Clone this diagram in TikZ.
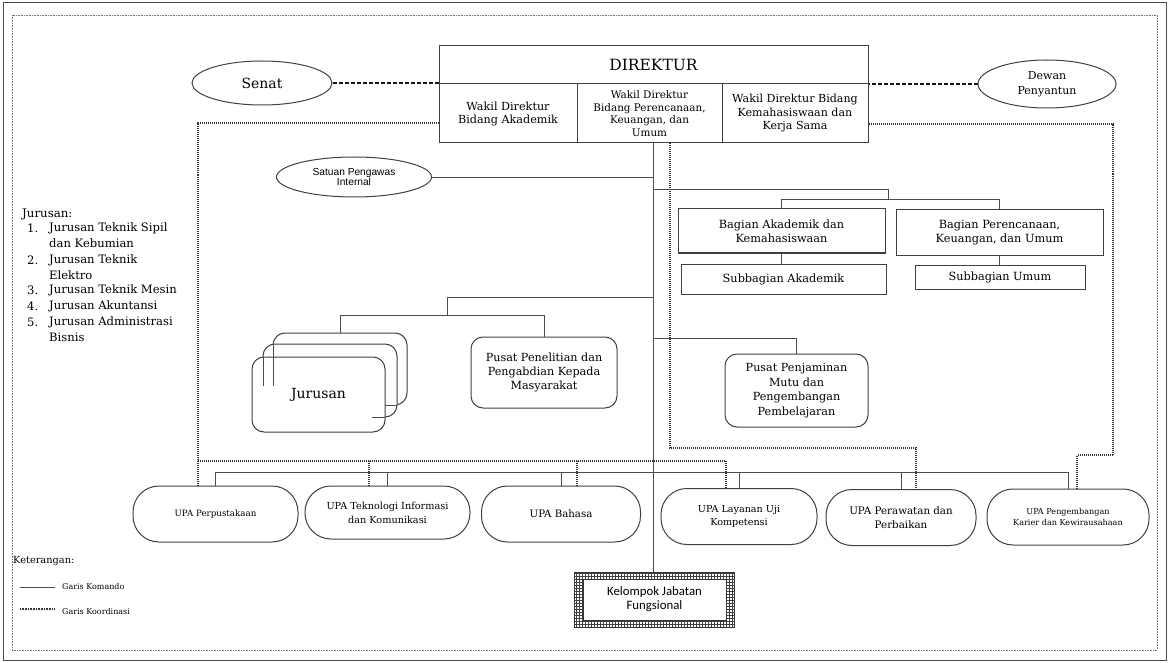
\documentclass[tikz,border=0pt]{standalone}
\usepackage{fontspec}
\setmainfont{DejaVu Serif}
\newfontfamily\sansA{Liberation Sans}
\newfontfamily\sansB{Carlito}
\usetikzlibrary{patterns,shapes.geometric,calc}
\newcommand\fsz[2]{\fontsize{#1}{#2}\selectfont}
\begin{document}
\begin{tikzpicture}[x=1pt,y=-1pt,
 box/.style={draw=black!75, line width=1pt, inner sep=1pt, align=center, font=\fsz{11.3}{14}, text=black},
 rbox/.style={box, rounded corners=12pt},
 upa/.style={box, rounded corners=26pt, minimum height=56pt, font=\fsz{9.6}{13}},
 ell/.style={draw=black!75, line width=1pt, ellipse, inner sep=0pt, align=center, text=black},
 cmd/.style={draw=black!70, line width=0.8pt},
 coord/.style={draw=black!80, line width=1.5pt, dash pattern=on 1pt off 1pt},
 dsh/.style={draw=black!90, line width=1.8pt, dash pattern=on 4pt off 2pt},
 lgd/.style={anchor=west, inner sep=0pt, text=black},
]
\useasboundingbox (0,0) rectangle (1170,663);
% frames
\draw[black!70, line width=1pt] (3,3) rectangle (1166,660);
\draw[black!55, line width=0.8pt, dash pattern=on 0.8pt off 0.8pt] (12,15) rectangle (1157,650);

% top
\node[box, minimum width=429pt, minimum height=38pt, font=\fsz{15.5}{18}] (dir) at (653.5,65) {DIREKTUR};
\node[box, minimum width=138pt, minimum height=59pt, font=\fsz{11.2}{13}] (wa) at (508,113.5) {Wakil Direktur\\Bidang Akademik};
\node[box, minimum width=145pt, minimum height=59pt, font=\fsz{10.4}{12.7}] (wp) at (649.5,113.5) {Wakil Direktur\\Bidang Perencanaan,\\Keuangan, dan\\Umum};
\node[box, minimum width=146pt, minimum height=59pt, font=\fsz{11.1}{13.5}] (wk) at (795,113.5) {Wakil Direktur Bidang\\Kemahasiswaan dan\\Kerja Sama};
\node[ell, minimum width=140pt, minimum height=44pt, font=\fsz{14}{16}] (senat) at (262,83) {Senat};
\node[ell, minimum width=138pt, minimum height=48pt, font=\fsz{11}{15}] (dewan) at (1047,84) {Dewan\\Penyantun};
\node[ell, minimum width=155pt, minimum height=40pt, font=\sansA\fsz{10.2}{9}] (sat) at (354,177) {Satuan Pengawas\\Internal};

\draw[dsh] (senat.east) -- (senat.east -| dir.west);
\draw[dsh] (dewan.west) -- (dewan.west -| dir.east);

% right branch
\node[box, minimum width=207pt, minimum height=44pt] (bagA) at (781.5,231) {Bagian Akademik dan\\Kemahasiswaan};
\node[box, minimum width=205pt, minimum height=30pt] (subA) at (783.5,279) {Subbagian Akademik};
\node[box, minimum width=207pt, minimum height=45pt] (bagP) at (999.5,232.5) {Bagian Perencanaan,\\Keuangan, dan Umum};
\node[box, minimum width=170pt, minimum height=24pt] (subU) at (1000,277) {Subbagian Umum};
\node[rbox, minimum width=143pt, minimum height=73pt, font=\fsz{11.2}{14.6}] (ppm) at (796.5,390.5) {Pusat Penjaminan\\Mutu dan\\Pengembangan\\Pembelajaran};

% left branch
\node[rbox, minimum width=146pt, minimum height=71pt, font=\fsz{11.2}{13.6}] (ppp) at (544,372.5) {Pusat Penelitian dan\\Pengabdian Kepada\\Masyarakat};
\node[rbox, fill=white, minimum width=134pt, minimum height=72pt] (jb) at (340,369) {};
\node[rbox, fill=white, minimum width=134pt, minimum height=73pt] (jm) at (330,380.5) {};
\node[rbox, fill=white, minimum width=133pt, minimum height=75pt, font=\fsz{14}{16}] (jur) at (318.5,394.5) {Jurusan};
\draw[cmd] (273,344) -- (273,386);
\draw[cmd] (263,357) -- (263,386);
\draw[cmd] (385,405) -- (397,405);
\draw[cmd] (372,417) -- (385,417);

% UPA
\node[upa, minimum width=165pt, font=\fsz{8.7}{11}] (u1) at (215.5,514) {UPA Perpustakaan};
\node[upa, minimum width=165pt, minimum height=53pt, font=\fsz{9.7}{14}] (u2) at (387.5,512.5) {UPA Teknologi Informasi\\dan Komunikasi};
\node[upa, minimum width=159pt, font=\fsz{10.2}{12}] (u3) at (561,514) {UPA Bahasa};
\node[upa, minimum width=156pt, font=\fsz{9.6}{13}] (u4) at (739,516.5) {UPA Layanan Uji\\Kompetensi};
\node[upa, minimum width=150pt, font=\fsz{10.3}{13.5}] (u5) at (901,517.5) {UPA Perawatan dan\\Perbaikan};
\node[upa, minimum width=162pt, font=\fsz{8.1}{11.5}] (u6) at (1068,517) {UPA Pengembangan\\Karier dan Kewirausahaan};

% Kelompok
\node[draw=black!80, line width=0.8pt, pattern=grid, pattern color=black!75, minimum width=160pt, minimum height=55pt] (kjfo) at (654,599.5) {};
\node[draw=black!80, line width=0.8pt, fill=white, minimum width=143pt, minimum height=41pt, font=\sansB\fsz{12.8}{14}, align=center, text=black] (kjf) at (654.5,599.5) {Kelompok Jabatan\\Fungsional};

% command lines
\coordinate (t0) at (653,143);
\draw[cmd] (t0) -- (t0 |- kjfo.north);
\draw[cmd] (sat.east) -- (sat.east -| t0);
\draw[cmd] (653,189) -| (888,199);
\draw[cmd] (bagA.north) -- (bagA.north |- 0,199) -| (bagP.north);
\draw[cmd] (bagA.south) -- (bagA.south |- subA.north);
\draw[cmd] (bagP.south) -- (bagP.south |- subU.north);
\draw[cmd] (653,338) -| (ppm.north);
\draw[cmd] (653,297) -| (447,315);
\draw[cmd] (jb.north) -- (jb.north |- 0,315) -| (ppp.north);
\draw[cmd] (u1.north) -- (u1.north |- 0,472) -| (u6.north);
\foreach \u in {u2,u3,u4,u5} \draw[cmd] (\u.north) -- (\u.north |- 0,472);

% coordination lines
\draw[coord] (wa.west |- 0,123) -| (198,485);
\draw[coord] (198,461) -| (726,489);
\draw[coord] (369,461) -- (369,486);
\draw[coord] (577,461) -- (577,486);
\draw[coord] (670,143) |- (916,448) -- (916,490);
\draw[coord] (wk.east |- 0,124) -| (1113,455) -| (1077,489);

% legend Jurusan
\node[lgd, font=\fsz{11.8}{14}] (jl) at (22,214) {Jurusan:};
\foreach \n/\yy/\t in {1./228/Jurusan Teknik Sipil, /243/dan Kebumian, 2./260/Jurusan Teknik, /275/Elektro, 3./290/Jurusan Teknik Mesin, 4./306/Jurusan Akuntansi, 5./322/Jurusan Administrasi, /337/Bisnis}{
  \node[lgd, font=\fsz{11.6}{14}] at (27,\yy) {\n};
  \node[lgd, font=\fsz{11.6}{14}] at (49,\yy) {\t};
}

% legend keterangan
\node[lgd, font=\fsz{9.8}{11}] (ket) at (13,561) {Keterangan:};
\coordinate (l1a) at (20,587); \coordinate (l1b) at (55,587);
\coordinate (l2a) at (20,609); \coordinate (l2b) at (55,609);
\draw[cmd] (l1a) -- (l1b);
\draw[draw=black!80, line width=1.2pt, dash pattern=on 0.8pt off 0.8pt] (l2a) -- (l2b);
\node[lgd, font=\fsz{8}{10}] at (62,587) {Garis Komando};
\node[lgd, font=\fsz{8}{10}] at (62,612) {Garis Koordinasi};
\end{tikzpicture}
\end{document}
